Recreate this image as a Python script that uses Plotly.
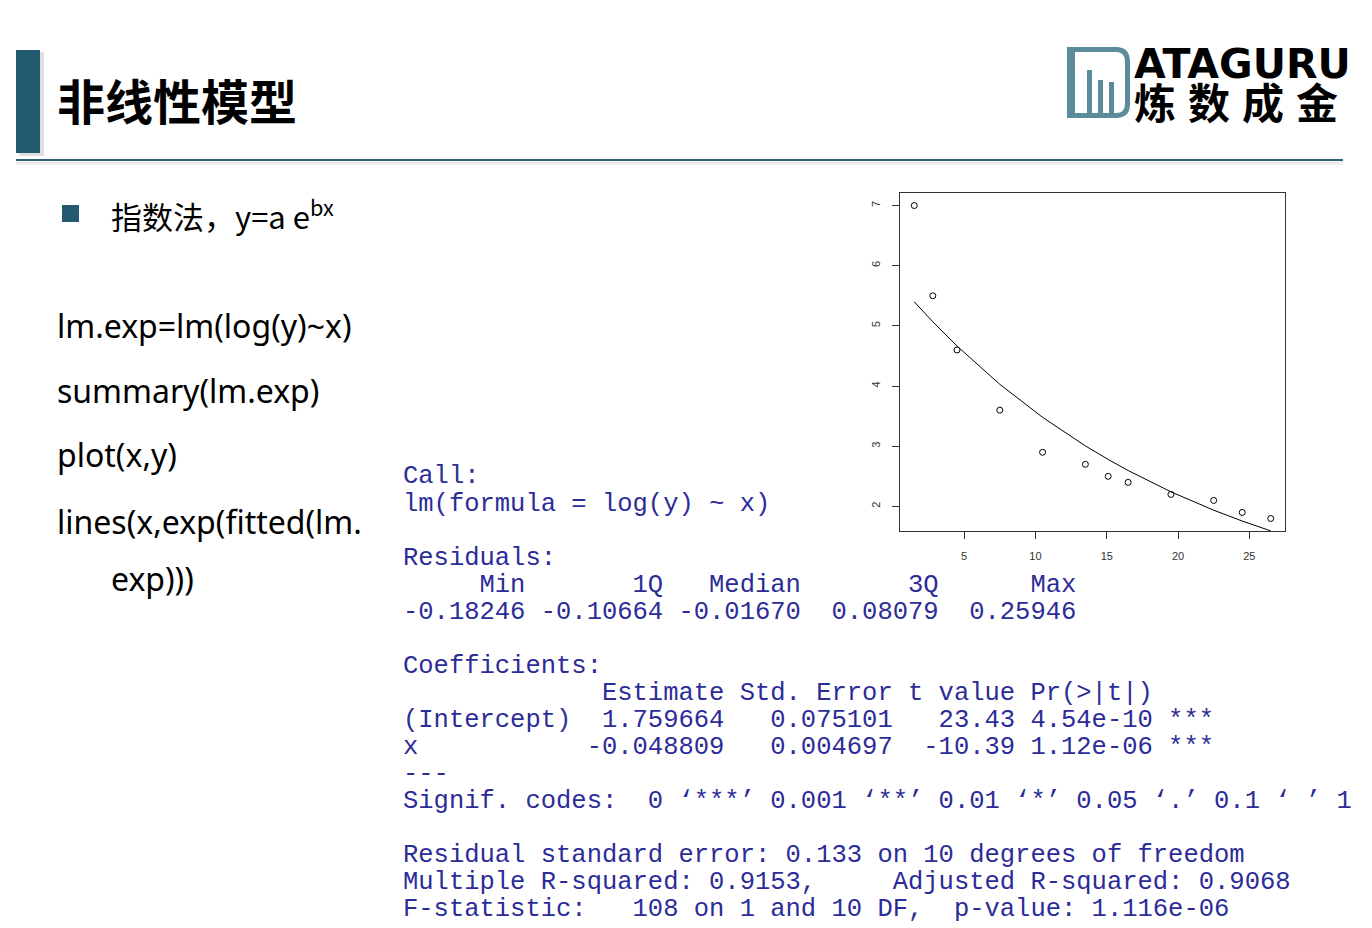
import math
import plotly.graph_objects as go

# data
x = [1.5, 2.8, 4.5, 7.5, 10.5, 13.5, 15.1, 16.5, 19.5, 22.5, 24.5, 26.5]
y = [7.0, 5.5, 4.6, 3.6, 2.9, 2.7, 2.5, 2.4, 2.2, 2.1, 1.9, 1.8]

# coefficients printed by summary(lm.exp)
intercept = 1.759664
slope = -0.048809

x_ticks = [5, 10, 15, 20, 25]
y_ticks = [2, 3, 4, 5, 6, 7]

title_text = "非线性模型"
bullet_text = "指数法，y=a e<sup>bx</sup>"
code_lines = ["lm.exp=lm(log(y)~x)", "summary(lm.exp)", "plot(x,y)",
              "lines(x,exp(fitted(lm.", "exp)))"]

r_output = [
    "Call:",
    "lm(formula = log(y) ~ x)",
    "",
    "Residuals:",
    "     Min       1Q   Median       3Q      Max",
    "-0.18246 -0.10664 -0.01670  0.08079  0.25946",
    "",
    "Coefficients:",
    "             Estimate Std. Error t value Pr(>|t|)",
    "(Intercept)  1.759664   0.075101   23.43 4.54e-10 ***",
    "x           -0.048809   0.004697  -10.39 1.12e-06 ***",
    "---",
    "Signif. codes:  0 \u2018***\u2019 0.001 \u2018**\u2019 0.01 \u2018*\u2019 0.05 \u2018.\u2019 0.1 \u2018 \u2019 1",
    "",
    "Residual standard error: 0.133 on 10 degrees of freedom",
    "Multiple R-squared: 0.9153,     Adjusted R-squared: 0.9068",
    "F-statistic:   108 on 1 and 10 DF,  p-value: 1.116e-06",
]

W, H = 1372, 928


def px(v):
    return v / W


def py(v):
    return 1 - v / H


# lines(x, exp(fitted(lm.exp)))
fitted = [math.exp(intercept + slope * xi) for xi in x]

fig = go.Figure()
fig.add_trace(go.Scatter(x=x, y=fitted, mode='lines',
                         line=dict(color='black', width=1), hoverinfo='none'))
fig.add_trace(go.Scatter(x=x, y=y, mode='markers',
                         marker=dict(symbol='circle-open', size=6,
                                     color='black', line=dict(width=1)),
                         hoverinfo='x+y'))

tickfont = dict(family='Liberation Sans', size=11, color='#333')
fig.update_xaxes(domain=[px(900), px(1285)], range=[0.5, 27.5],
                 tickvals=x_ticks, ticks='outside', ticklen=7, tickcolor='#333',
                 showline=True, linecolor='#333', linewidth=1, mirror=True,
                 showgrid=False, zeroline=False, tickfont=tickfont,
                 ticklabelstandoff=8)
fig.update_yaxes(domain=[py(531), py(193)], range=[1.592, 7.208],
                 tickvals=y_ticks, ticks='outside', ticklen=7, tickcolor='#333',
                 showline=True, linecolor='#333', linewidth=1, mirror=True,
                 showgrid=False, zeroline=False, tickfont=tickfont,
                 tickangle=-90, ticklabelstandoff=8)

shapes = []
# header bar with soft shadow
shapes.append(dict(type='rect', xref='paper', yref='paper',
                   x0=px(19), x1=px(44), y0=py(156), y1=py(52),
                   fillcolor='rgba(0,0,0,0.12)', line_width=0, layer='below'))
shapes.append(dict(type='rect', xref='paper', yref='paper',
                   x0=px(16), x1=px(40), y0=py(153), y1=py(50),
                   fillcolor='#245a70', line_width=0))
# rule under the title
shapes.append(dict(type='line', xref='paper', yref='paper',
                   x0=px(16), x1=px(1343), y0=py(163), y1=py(163),
                   line=dict(color='rgba(0,0,0,0.08)', width=3)))
shapes.append(dict(type='line', xref='paper', yref='paper',
                   x0=px(16), x1=px(1343), y0=py(160), y1=py(160),
                   line=dict(color='#2f6278', width=2)))
# bullet square
shapes.append(dict(type='rect', xref='paper', yref='paper',
                   x0=px(62), x1=px(79), y0=py(222), y1=py(205),
                   fillcolor='#245a70', line_width=0))
# logo mark
logo = '#5b8c9b'
shapes.append(dict(type='rect', xref='paper', yref='paper',
                   x0=px(1067), x1=px(1075), y0=py(118), y1=py(47),
                   fillcolor=logo, line_width=0))
shapes.append(dict(type='path', xref='paper', yref='paper',
                   path='M %f,%f L %f,%f Q %f,%f %f,%f L %f,%f Q %f,%f %f,%f L %f,%f' % (
                       px(1073), py(49.5), px(1116), py(49.5), px(1127.5), py(49.5),
                       px(1127.5), py(62), px(1127.5), py(104), px(1127.5), py(115.5),
                       px(1116), py(115.5), px(1073), py(115.5)),
                   line=dict(color=logo, width=5)))
for bx0, bx1, btop in [(1087, 1092, 70), (1098, 1103, 80), (1109, 1114, 82)]:
    shapes.append(dict(type='rect', xref='paper', yref='paper',
                       x0=px(bx0), x1=px(bx1), y0=py(113), y1=py(btop),
                       fillcolor=logo, line_width=0))

annotations = []


def note(text, x0, y0, size, family, color='black', weight=None, yanchor='middle'):
    font = dict(family=family, size=size, color=color)
    if weight:
        font['weight'] = weight
    annotations.append(dict(text=text, xref='paper', yref='paper',
                            x=px(x0), y=py(y0), xanchor='left', yanchor=yanchor,
                            showarrow=False, font=font, borderpad=0))


note(title_text, 56, 99, 48, 'Noto Sans CJK SC', weight='bold')
note('ATAGURU', 1133, 89, 41, 'DejaVu Sans', weight='bold', yanchor='bottom')
for i, ch in enumerate('炼数成金'):
    note(ch, 1133 + i * 54, 69, 42, 'Noto Sans CJK SC', weight='bold', yanchor='top')

note(bullet_text, 110, 214, 31, 'Noto Sans CJK SC')
code_x = [56, 56, 56, 56, 110]
code_y = [325, 390, 454, 521, 578]
for t, cx, cy in zip(code_lines, code_x, code_y):
    note(t, cx, cy, 32, 'Noto Sans')

for i, line in enumerate(r_output):
    if line:
        note(line.replace(' ', '\u00a0'), 402, 477 + i * 27.06, 25.5,
             'Liberation Mono', color='#2c2c98')

fig.update_layout(width=W, height=H, margin=dict(l=0, r=0, t=0, b=0),
                  paper_bgcolor='white', plot_bgcolor='white',
                  showlegend=False, shapes=shapes, annotations=annotations)

fig.write_html("out.html", config={'displayModeBar': False},
               post_script="document.body.style.margin='0';")
